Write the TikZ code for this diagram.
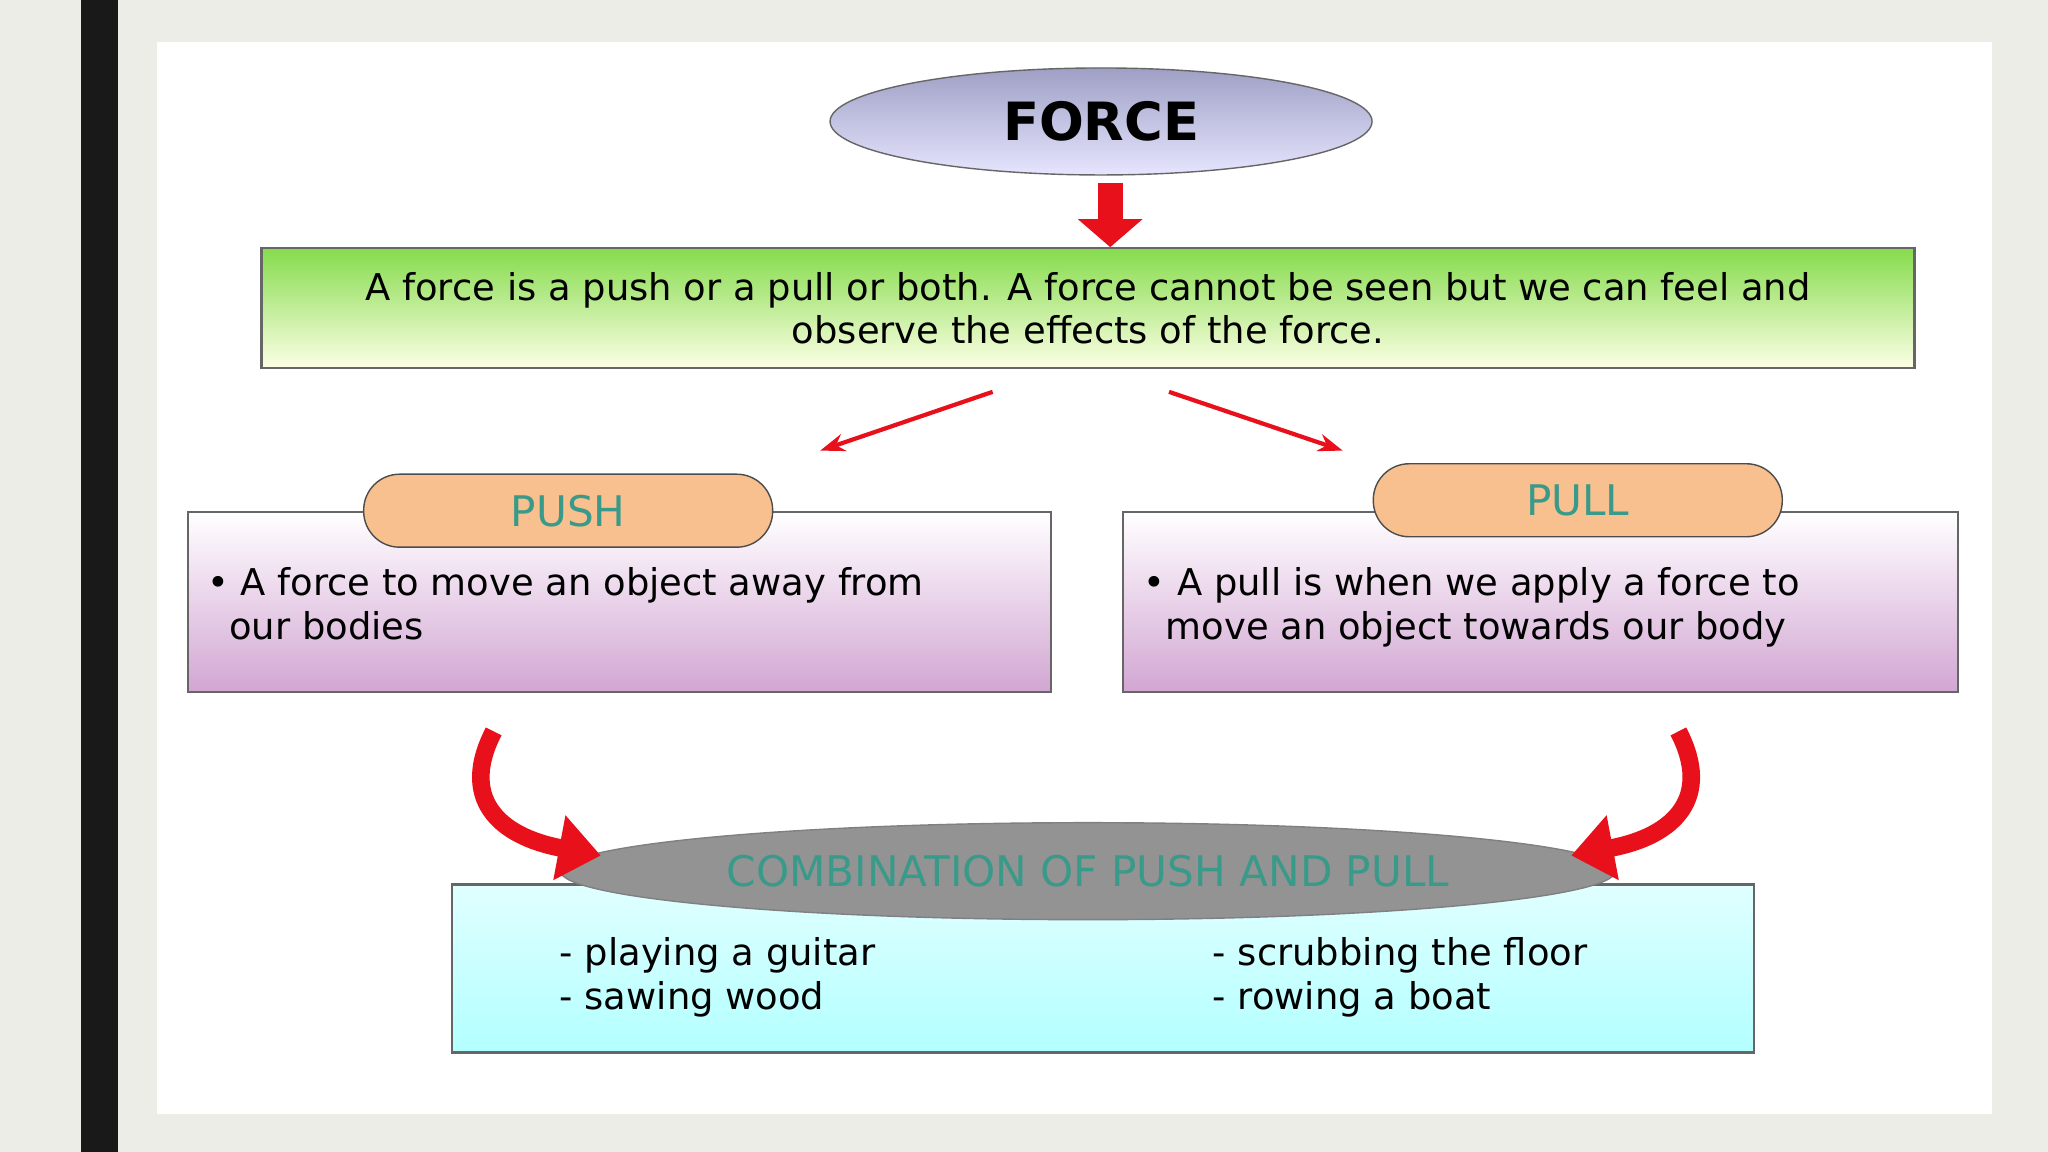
\documentclass[tikz,border=0pt]{standalone}
\usepackage{fontspec}
\setmainfont{DejaVu Sans}
\usetikzlibrary{shapes.geometric,arrows.meta,positioning}
\definecolor{bgray}{HTML}{EDEDE8}
\definecolor{teal}{HTML}{3A9A8A}
\definecolor{peach}{HTML}{F9C08F}
\definecolor{arrred}{HTML}{E8101A}
\tikzset{
  infobox/.style={draw=black!60, line width=0.6pt, inner sep=0pt},
  pill/.style={draw=black!70, rounded corners=0.36cm, fill=peach, minimum width=4.09cm,
    minimum height=0.73cm, text=teal, font=\fontsize{12}{14}\selectfont},
  bodytext/.style={align=left, anchor=north west, inner sep=0pt, font=\fontsize{10.5}{12.5}\selectfont},
  thinarrow/.style={arrred, line width=1.2pt, -{Stealth[length=7pt,width=5pt]}},
  bentarrow/.style={arrred, line width=5pt, -{Triangle[length=12pt,width=18pt]}}
}
\begin{document}
\begin{tikzpicture}[x=0.01306cm, y=-0.01306cm]
  \useasboundingbox (0,0) rectangle (1568,882);
  \fill[bgray] (0,0) rectangle (1568,882);
  \fill[black!90] (62,0) rectangle (90,882);
  \fill[white] (120,32) rectangle (1525,853);

  % top ellipse
  \node[ellipse, draw=black!60, top color=blue!25!gray!60, bottom color=blue!10!white,
    minimum width=5.42cm, minimum height=1.07cm, font=\fontsize{15}{17}\selectfont\bfseries] (force) at (843,93) {FORCE};

  % definition box
  \node[infobox, top color=green!60!yellow!80!black!70, bottom color=green!8!yellow!10,
    minimum width=16.53cm, minimum height=1.20cm, align=center,
    font=\fontsize{10.5}{12.5}\selectfont] (def) at (833,236)
    {A force is a push or a pull or both. A force cannot be seen but we can feel and\\observe the effects of the force.};
  \draw[arrred, line width=7pt, -{Triangle[length=8pt,width=18pt]}] (850,140) -- (def.north -| 850,0);

  % push and pull boxes
  \node[infobox, top color=white, bottom color=violet!35, minimum width=8.63cm, minimum height=1.80cm] (pushbox) at (474.5,461) {};
  \node[infobox, top color=white, bottom color=violet!35, minimum width=8.35cm, minimum height=1.80cm] (pullbox) at (1179.5,461) {};
  \node[pill] (push) at (435,391) {PUSH};
  \node[pill] (pull) at (1208,383) {PULL};
  \node[bodytext] (pushtxt) at (158,434) {• A force to move an object away from\\\hspace*{0.6em}our bodies};
  \node[bodytext] (pulltxt) at (875,434) {• A pull is when we apply a force to\\\hspace*{0.6em}move an object towards our body};

  \coordinate (l1) at (760,300);
  \coordinate (l2) at (628,345);
  \coordinate (r1) at (895,300);
  \coordinate (r2) at (1028,345);
  \draw[thinarrow] (l1) -- (l2);
  \draw[thinarrow] (r1) -- (r2);

  % combination box
  \node[infobox, top color=cyan!12, bottom color=cyan!30, minimum width=13.02cm, minimum height=1.68cm] (combo) at (844.5,741.5) {};
  \node[ellipse, draw=black!50, fill=gray!85, minimum width=9.22cm, minimum height=0.97cm,
    text=teal, font=\fontsize{12}{14}\selectfont] (comb) at (833,667) {COMBINATION OF PUSH AND PULL};
  \node[bodytext] (ex1) at (428,717) {- playing a guitar\\- sawing wood};
  \node[bodytext] (ex2) at (928,717) {- scrubbing the floor\\- rowing a boat};

  \coordinate (bl1) at (378,560);
  \coordinate (bl2) at (460,655);
  \coordinate (br1) at (1285,560);
  \coordinate (br2) at (1203,655);
  \draw[bentarrow] (bl1) .. controls (352,610) and (380,640) .. (bl2);
  \draw[bentarrow] (br1) .. controls (1311,610) and (1283,640) .. (br2);
\end{tikzpicture}
\end{document}
